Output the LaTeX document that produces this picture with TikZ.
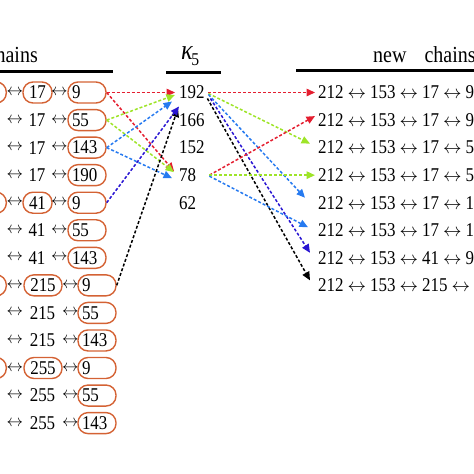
\RequirePackage{fix-cm}
\documentclass[tikz,border=0pt]{standalone}
\usepackage{fontspec}
\setmainfont{Liberation Serif}[FakeStretch=0.87]
\usetikzlibrary{arrows.meta,calc}
\definecolor{ovalc}{RGB}{212,98,52}
\definecolor{cred}{RGB}{228,30,48}
\definecolor{cgreen}{RGB}{158,228,40}
\definecolor{cblue}{RGB}{38,122,240}
\definecolor{cpurple}{RGB}{40,20,210}
\newcommand\lrsym[1]{{\fontsize{#1}{#1}\selectfont$\leftrightarrow$}}
\newcommand\lr{\hspace{4pt}\lrsym{18.5}\hspace{4pt}}
\begin{document}
\begin{tikzpicture}[x=1pt,y=-1pt,
  txt/.style={font=\fontsize{19.5}{20}\selectfont, inner sep=0pt},
  hdr/.style={font=\fontsize{23}{24}\selectfont, inner sep=0pt},
  oval/.style={draw=ovalc, line width=1.4pt, rounded corners=10pt, minimum height=21pt, inner sep=0pt, font=\fontsize{19.5}{20}\selectfont},
  lastoval/.style={oval, text width=30pt, align=left, inner xsep=4pt, minimum width=38pt},
  val/.style={txt, text width=25pt, align=left, inner sep=2pt},
  link/.style={line width=1.5pt, dash pattern=on 3pt off 2pt, -{Triangle[length=8.5pt,width=7.5pt]}},
  rulebar/.style={line width=3pt}]
\useasboundingbox (0,0) rectangle (474,474);
\clip (0,0) rectangle (474,474);

% headers
\node[hdr, anchor=base east] (hL) at (38,62) {chains};
\node[inner sep=0pt, anchor=base west] (hK) at (181,59) {\fontsize{28}{28}\selectfont\itshape κ\kern-1.5pt\raisebox{-6pt}{\upshape\fontsize{18}{18}\selectfont 5}};
\node[hdr, anchor=base west] (hR) at (373,62) {new\hspace{18pt}chains};
\draw[rulebar] (0,71) -- (113,71);
\draw[rulebar] (166,72) -- (221,72);
\draw[rulebar] (296,70) -- (474,70);

% left chains, rows 1-7
\foreach \i/\m/\l/\o in {1/17/9/1,2/17/55/0,3/17/143/0,4/17/190/0,5/41/9/1,6/41/55/0,7/41/143/0}{
  \pgfmathsetmacro\yy{92.5+27.55*(\i-1)}
  \ifnum\o=1
    \node[oval, minimum width=50pt, anchor=east] (p\i) at (7,\yy) {};
    \node[oval, minimum width=29pt] (m\i) at (37.5,\yy) {\m};
  \else
    \node[txt] (m\i) at (37,\yy) {\m};
  \fi
  \node[txt, anchor=west] (a\i) at (6.5,\yy) {\lrsym{16.5}};
  \node[txt, anchor=west] (b\i) at (51,\yy) {\lrsym{16.5}};
  \node[lastoval] (L\i) at (87,\yy) {\l};
}
% left chains, rows 8-13
\foreach \i/\m/\l/\o in {8/215/9/1,9/215/55/0,10/215/143/0,11/255/9/1,12/255/55/0,13/255/143/0}{
  \pgfmathsetmacro\yy{92.5+27.55*(\i-1)}
  \ifnum\o=1
    \node[oval, minimum width=50pt, anchor=east] (p\i) at (7,\yy) {};
    \node[oval, minimum width=38pt] (m\i) at (43,\yy) {\m};
  \else
    \node[txt] (m\i) at (42.5,\yy) {\m};
  \fi
  \node[txt, anchor=west] (a\i) at (6.5,\yy) {\lrsym{16.5}};
  \node[txt, anchor=west] (b\i) at (62,\yy) {\lrsym{16.5}};
  \node[lastoval] (L\i) at (97,\yy) {\l};
}

% kappa_5 values
\foreach \n/\v/\i in {k192/192/1,k166/166/2,k152/152/3,k78/78/4,k62/62/5}{
  \pgfmathsetmacro\yy{92.5+27.55*(\i-1)}
  \node[val, anchor=west] (\n) at (177,\yy) {\v};
}

% new chains
\foreach \i/\t in {1/{212\lr153\lr17\lr9},2/{212\lr153\lr17\lr9},3/{212\lr153\lr17\lr55},4/{212\lr153\lr17\lr55},5/{212\lr153\lr17\lr143},6/{212\lr153\lr17\lr143},7/{212\lr153\lr41\lr9},8/{212\lr153\lr215\lr9}}{
  \pgfmathsetmacro\yy{92.5+27.55*(\i-1)}
  \node[txt, anchor=west] (R\i) at (318,\yy) {\t};
}

% incoming connectors
\draw[link, cred] (L1.east) -- ($(k192.west)+(-2,0)$);
\draw[link, cred] (L1.east) -- ($(k78.west)+(-3,-4)$);
\draw[link, cgreen] (L2.east) -- ($(k192.west)+(-2,2.5)$);
\draw[link, cgreen] (L2.east) -- ($(k78.west)+(-3,-3)$);
\draw[link, cblue] (L3.east) -- ($(k192.west)+(-5,9)$);
\draw[link, cblue] (L3.east) -- ($(k78.west)+(-5,3)$);
\draw[link, black] (L8.east) -- ($(k192.west)+(1,16)$);
\draw[link, cpurple] (L5.east) -- ($(k192.west)+(2,14)$);

% outgoing connectors
\draw[link, cred] ($(k192.east)+(2,0)$) -- ($(R1.west)+(-3,0)$);
\draw[link, cgreen] ($(k192.east)+(2,1)$) -- ($(R3.west)+(-8,-4)$);
\draw[link, cblue] ($(k192.east)+(2,2)$) -- ($(R5.west)+(-13,-5)$);
\draw[link, black] ($(k192.east)+(1,6)$) -- ($(R8.west)+(-8,-5)$);
\draw[link, cpurple] ($(k192.east)+(4,6)$) -- ($(R7.west)+(-8,-5)$);
\draw[link, cred] ($(k78.east)+(3,0)$) -- ($(R2.west)+(-3,-4)$);
\draw[link, cgreen] ($(k78.east)+(3,0)$) -- ($(R4.west)+(-3,0)$);
\draw[link, cblue] ($(k78.east)+(3,1)$) -- ($(R6.west)+(-10,-3)$);
\end{tikzpicture}
\end{document}
